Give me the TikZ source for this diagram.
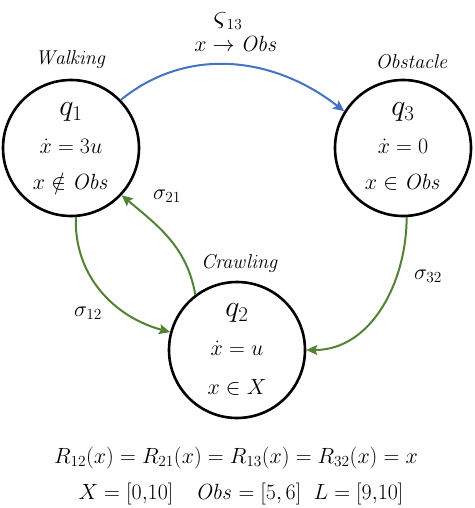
\RequirePackage{fix-cm}
\documentclass[tikz,border=0pt]{standalone}
\usepackage{amsmath}
\usetikzlibrary{arrows.meta}
\definecolor{eblue}{HTML}{4472C4}
\definecolor{egreen}{HTML}{548235}
\begin{document}
\begin{tikzpicture}[x=1pt,y=-1pt,
  state/.style={circle,draw=black,line width=2.6pt,minimum size=136pt,inner sep=0pt},
  tr/.style={line width=2pt,-{Stealth[length=11pt,width=10pt,inset=2pt]}},
  lab/.style={inner sep=0pt,font=\fontsize{20}{22}\selectfont},
  tlab/.style={inner sep=0pt,font=\fontsize{22}{24}\selectfont},
  qlab/.style={inner sep=0pt,font=\fontsize{30}{32}\selectfont}]
\useasboundingbox (0,0) rectangle (474,508);
\node[state] (q1) at (71,148) {};
\node[state] (q3) at (403,148) {};
\node[state] (q2) at (237,350) {};
% contents
\node[qlab] (q1n) at (71,112) {$q_1$};
\node[tlab] (q1d) at (71,146) {$\dot{x}=3u$};
\node[tlab] (q1c) at (71,182) {$x\notin \mathit{Obs}$};
\node[qlab] (q3n) at (403,112) {$q_3$};
\node[tlab] (q3d) at (403,146) {$\dot{x}=0$};
\node[tlab] (q3c) at (403,182) {$x\in \mathit{Obs}$};
\node[qlab] (q2n) at (237,313) {$q_2$};
\node[tlab] (q2d) at (237,348) {$\dot{x}=u$};
\node[tlab] (q2c) at (237,387) {$x\in X$};
% mode names
\node[lab] (wk) at (71,60) {$\mathit{Walking}$};
\node[lab] (ob) at (412,62) {$\mathit{Obstacle}$};
\node[lab] (cr) at (240,263) {$\mathit{Crawling}$};
% transitions
\draw[tr,eblue] (q1.44) to[out=39,in=142] (q3.148);
\draw[tr,egreen] (q2.127) to[out=100,in=-40] (q1.-43);
\draw[tr,egreen] (q1.-86) to[out=-92,in=165] (q2.165);
\draw[tr,egreen] (q3.-87) to[out=-90,in=0] (q2.0);
% labels
\node[tlab] (s13) at (228,21) {$\text{\fontsize{30}{30}\selectfont$\varsigma$}_{13}$};
\node[tlab] (s13b) at (236,44) {$x\rightarrow \mathit{Obs}$};
\node[tlab] (s21) at (167,196) {$\sigma_{21}$};
\node[tlab] (s12) at (88,313) {$\sigma_{12}$};
\node[tlab] (s32) at (428,276) {$\sigma_{32}$};
% equations
\node[tlab] (eq1) at (236,458) {$R_{12}(x)=R_{21}(x)=R_{13}(x)=R_{32}(x)=x$};
\node[tlab] (eq2) at (241,494) {$X=[0{,}10]\quad \mathit{Obs}=[5,6]\;\; L=[9{,}10]$};
\end{tikzpicture}
\end{document}
